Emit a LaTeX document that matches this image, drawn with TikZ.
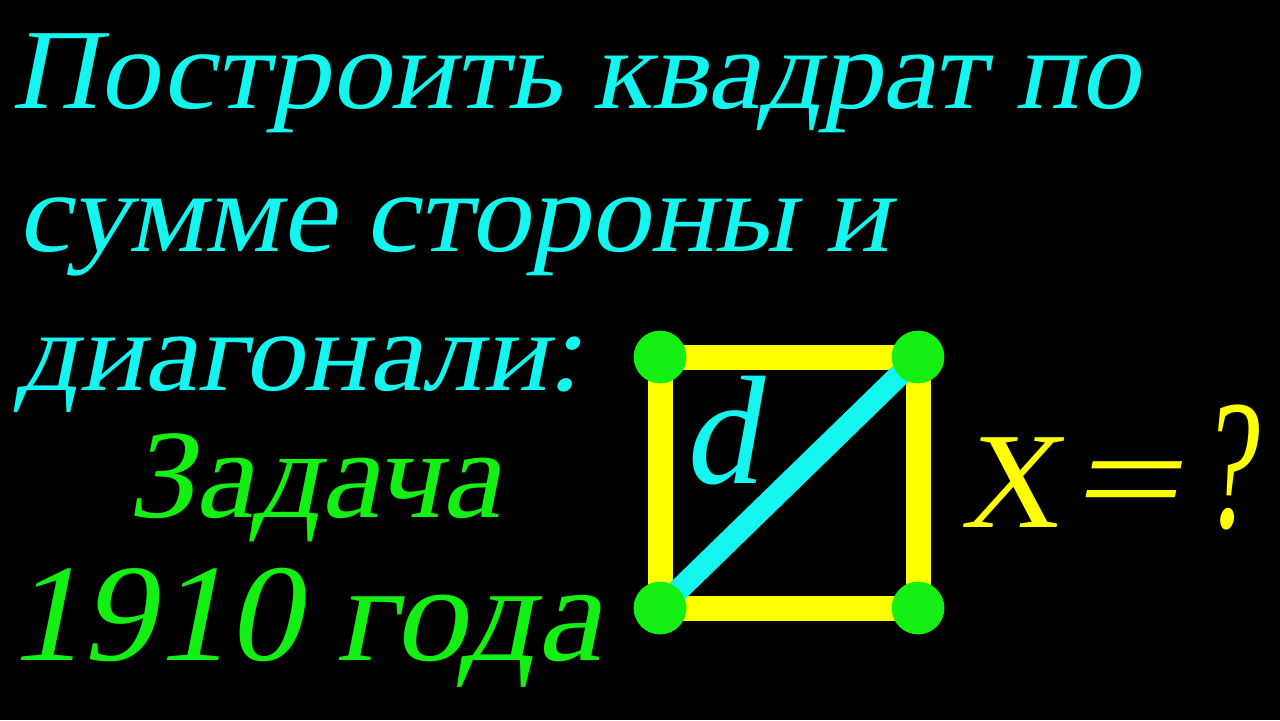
\documentclass[tikz,border=0pt]{standalone}
\usepackage{fontspec}
\usepackage{graphicx}
\setmainfont{Liberation Serif}
\newfontfamily\titlefont{Liberation Serif}[FakeSlant=0.2,FakeStretch=1.055]
\newfontfamily\taskfont{Liberation Serif}[FakeSlant=0.2,FakeStretch=1.05]
\newfontfamily\slfont{Liberation Serif}[FakeSlant=0.15]
\definecolor{tcyan}{RGB}{20,245,240}
\definecolor{tgreen}{RGB}{20,240,20}
\definecolor{tyellow}{RGB}{255,255,0}
\tikzset{
  txt/.style={anchor=base west,inner sep=0pt},
  side/.style={draw=tyellow,line width=7.1pt},
  diag/.style={draw=tcyan,line width=6.3pt},
  vertex/.style={circle,fill=tgreen,minimum size=15pt,inner sep=0pt}
}
\begin{document}
\begin{tikzpicture}[x=0.01cm,y=-0.01cm]
      \fill[black] (0,0) rectangle (1280,720);
      \useasboundingbox (0,0) rectangle (1280,720);
      \draw
        (11,108) node[txt,tcyan] (title1){\titlefont\fontsize{32.5}{38}\selectfont Построить квадрат по}
        (17,251) node[txt,tcyan] (title2){\titlefont\fontsize{32.5}{38}\selectfont сумме стороны и}
        (17,390) node[txt,tcyan] (title3){\titlefont\fontsize{32.5}{38}\selectfont диагонали:}
        (127,517) node[txt,tgreen] (task){\taskfont\fontsize{36}{40}\selectfont Задача}
        (8,660) node[txt,tgreen] (year){\taskfont\fontsize{39.5}{44}\selectfont 1910 года};
      \coordinate (A) at (660,608);
      \coordinate (B) at (918,608);
      \coordinate (C) at (918,357);
      \coordinate (D) at (660,357);
      \begin{scope}
        \draw[side] (A) -- (B) -- (C) -- (D) -- cycle;
        \draw[diag] (A) to (C);
      \end{scope}
      \foreach \v in {A,B,C,D}
        \node[vertex] (v\v) at (\v) {};
      \draw
        (688,483) node[txt,tcyan] (dlabel){\fontsize{44}{50}\selectfont\itshape d}
        (960,527) node[txt,tyellow] (answer){\slfont\fontsize{39}{44}\selectfont
          X\kern3pt\scalebox{1.4}[1.05]{=}\kern7pt\scalebox{0.85}[1.35]{?}};
    \end{tikzpicture}
\end{document}
